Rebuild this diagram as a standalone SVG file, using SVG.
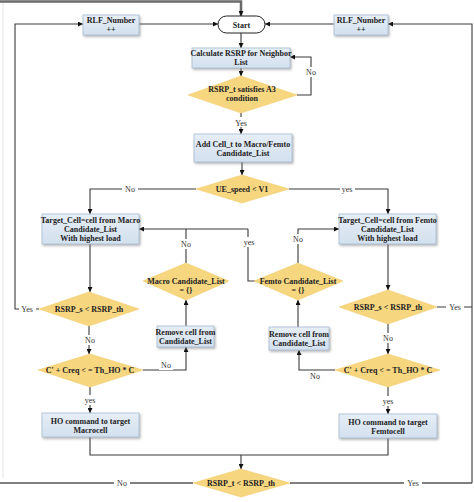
<svg xmlns="http://www.w3.org/2000/svg" width="474" height="502" viewBox="0 0 474 502">
<defs>
<linearGradient id="gb" x1="0" y1="0" x2="0" y2="1">
<stop offset="0" stop-color="#e6eef7"/>
<stop offset="1" stop-color="#d3e0ee"/>
</linearGradient>
<filter id="sh" x="-10%" y="-10%" width="130%" height="140%">
<feDropShadow dx="1.2" dy="1.5" stdDeviation="0.8" flood-color="#777" flood-opacity="0.55"/>
</filter>
<marker id="ar" viewBox="0 0 10 10" refX="10" refY="5" markerWidth="5" markerHeight="5" orient="auto" markerUnits="userSpaceOnUse">
<path d="M0,0 L10,5 L0,10 z" fill="#111"/>
</marker>
<style>
.box{fill:url(#gb);stroke:#a9bccf;stroke-width:0.8;filter:url(#sh)}
.dia{fill:#f7d680;stroke:#f0c860;stroke-width:0.5}
.term{fill:#fff;stroke:#222;stroke-width:1}
.t{font-family:"Liberation Serif","Times New Roman",serif;font-size:8px;font-weight:bold;fill:#222;text-anchor:middle}
.l{font-family:"Liberation Serif","Times New Roman",serif;font-size:8px;fill:#333;text-anchor:middle}
.ln{stroke:#3a3a3a;stroke-width:1.1;fill:none}
.a{marker-end:url(#ar)}
.bg{fill:#fff}
</style>
</defs>
<rect width="474" height="502" fill="#fff"/>

<g id="connectors">
<line x1="3" y1="3" x2="3" y2="478" stroke="#e2e2e2" stroke-width="1"/>
<path class="ln a" d="M0,1.5 H241 V16" stroke="#666" stroke-width="2.5" style="stroke:#6a6a6a;stroke-width:2.5"/>
<path class="ln a" d="M139,24 H218"/>
<path class="ln a" d="M334,24 H265"/>
<path class="ln a" d="M472,483 V24 H388"/>
<path class="ln a" d="M241,33 V48"/>
<path class="ln a" d="M241,68 V76"/>
<path class="ln a" d="M297,95 H311 V57 H290"/>
<path class="ln a" d="M241,113 V134"/>
<path class="ln a" d="M242,162 V175"/>
<path class="ln a" d="M196,189 H90 V214"/>
<path class="ln a" d="M289,189 H388 V214"/>
<path class="ln a" d="M90,244 V292"/>
<path class="ln a" d="M388,244 V290"/>
<path class="ln a" d="M39,309 H15 V24 H83"/>
<path class="ln" d="M437,307 H472"/>
<path class="ln a" d="M89,326 V354"/>
<path class="ln a" d="M388,324 V354"/>
<path class="ln a" d="M143,370 H186 V347"/>
<path class="ln a" d="M335,370 H299 V350"/>
<path class="ln a" d="M186,326 V300"/>
<path class="ln a" d="M298,327 V300"/>
<path class="ln a" d="M186,263 V229 M248,229 H139"/>
<path class="ln" d="M255,281 H248 V229"/>
<path class="ln a" d="M298,263 V229 H339"/>
<path class="ln a" d="M90,387 V413"/>
<path class="ln a" d="M388,387 V414"/>
<path class="ln" d="M90,437 V455 H388 V438"/>
<path class="ln a" d="M241,455 V469"/>
<path class="ln" d="M193,483 H0" style="stroke:#555;stroke-width:1.3"/>
<path class="ln" d="M290,483 H472" style="stroke:#555;stroke-width:1.3"/>

<rect class="bg" x="232" y="117" width="18" height="10"/><text class="l" x="241" y="125.5">Yes</text>
<rect class="bg" x="304" y="67" width="14" height="10"/><text class="l" x="311" y="75">No</text>
<rect class="bg" x="122" y="184" width="16" height="10"/><text class="l" x="130" y="192">No</text>
<rect class="bg" x="340" y="184" width="15" height="10"/><text class="l" x="347" y="192">yes</text>
<rect class="bg" x="179" y="239" width="14" height="10"/><text class="l" x="186" y="247">No</text>
<rect class="bg" x="242" y="237" width="14" height="10"/><text class="l" x="249" y="245">yes</text>
<rect class="bg" x="291" y="234" width="14" height="10"/><text class="l" x="298" y="242">No</text>
<rect class="bg" x="19" y="304" width="17" height="10"/><text class="l" x="27" y="312">Yes</text>
<rect class="bg" x="446" y="302" width="18" height="10"/><text class="l" x="455" y="310">Yes</text>
<rect class="bg" x="83" y="335" width="14" height="10"/><text class="l" x="90" y="343">No</text>
<rect class="bg" x="381" y="333" width="14" height="10"/><text class="l" x="388" y="341">No</text>
<rect class="bg" x="159" y="361" width="14" height="9"/><text class="l" x="166" y="368">No</text>
<rect class="bg" x="308" y="371" width="14" height="10"/><text class="l" x="315" y="379">No</text>
<rect class="bg" x="83" y="395" width="15" height="10"/><text class="l" x="90" y="403">yes</text>
<rect class="bg" x="381" y="396" width="15" height="10"/><text class="l" x="388" y="404">yes</text>
<rect class="bg" x="114" y="478" width="16" height="10"/><text class="l" x="122" y="486">No</text>
<rect class="bg" x="404" y="478" width="18" height="10"/><text class="l" x="413" y="486">Yes</text>
</g>

<g id="start"><rect class="term" x="218" y="16" width="47" height="17" rx="8.5"/><text class="t" x="241.5" y="27.5">Start</text></g>
<g id="rlf-left"><rect class="box" x="83" y="15" width="56" height="20"/><text class="t" x="111" y="23">RLF_Number</text><text class="t" x="111" y="32">++</text></g>
<g id="rlf-right"><rect class="box" x="334" y="15" width="54" height="20"/><text class="t" x="361" y="23">RLF_Number</text><text class="t" x="361" y="32">++</text></g>
<g id="calc"><rect class="box" x="192" y="48" width="98" height="20"/><text class="t" x="241" y="56">Calculate RSRP for Neighbor</text><text class="t" x="241" y="65">List</text></g>
<g id="a3"><polygon class="dia" points="241,76 297,95 241,113 188,95"/><text class="t" x="242" y="92">RSRP_t satisfies A3</text><text class="t" x="242" y="101">condition</text></g>
<g id="add"><rect class="box" x="194" y="134" width="98" height="28"/><text class="t" x="243" y="147">Add Cell_t to Macro/Femto</text><text class="t" x="243" y="156">Candidate_List</text></g>
<g id="speed"><polygon class="dia" points="242,175 289,189 242,203 196,189"/><text class="t" x="242" y="192">UE_speed &lt; V1</text></g>
<g id="target-macro"><rect class="box" x="42" y="214" width="97" height="30"/><text class="t" x="90.5" y="222.5">Target_Cell=cell from Macro</text><text class="t" x="90.5" y="231.5">Candidate_List</text><text class="t" x="90.5" y="240.5">With highest load</text></g>
<g id="target-femto"><rect class="box" x="339" y="214" width="97" height="30"/><text class="t" x="387.5" y="222.5">Target_Cell=cell from Femto</text><text class="t" x="387.5" y="231.5">Candidate_List</text><text class="t" x="387.5" y="240.5">With highest load</text></g>
<g id="macro-empty"><polygon class="dia" points="186,263 229,281 186,300 143,281"/><text class="t" x="186" y="284">Macro Candidate_List</text><text class="t" x="186" y="293">= {}</text></g>
<g id="femto-empty"><polygon class="dia" points="298,263 343,281 298,300 254,281"/><text class="t" x="298" y="284">Femto Candidate_List</text><text class="t" x="298" y="293">= {}</text></g>
<g id="rsrps-left"><polygon class="dia" points="89,292 139,309 89,326 39,309"/><text class="t" x="89" y="312">RSRP_s &lt;  RSRP_th</text></g>
<g id="rsrps-right"><polygon class="dia" points="388,290 437,307 388,324 339,307"/><text class="t" x="388" y="310">RSRP_s &lt;  RSRP_th</text></g>
<g id="remove-left"><rect class="box" x="157" y="326" width="57" height="21"/><text class="t" x="185.5" y="335">Remove cell from</text><text class="t" x="185.5" y="344">Candidate_List</text></g>
<g id="remove-right"><rect class="box" x="269" y="327" width="60" height="23"/><text class="t" x="299" y="337">Remove cell from</text><text class="t" x="299" y="346">Candidate_List</text></g>
<g id="cap-left"><polygon class="dia" points="90,354 143,370 90,387 38,370"/><text class="t" x="90" y="373">C' + Creq &lt; = Th_HO * C</text></g>
<g id="cap-right"><polygon class="dia" points="388,354 440,370 388,387 335,370"/><text class="t" x="388" y="373">C' + Creq &lt; = Th_HO * C</text></g>
<g id="ho-macro"><rect class="box" x="42" y="413" width="97" height="24"/><text class="t" x="90.5" y="424">HO command to target</text><text class="t" x="90.5" y="433">Macrocell</text></g>
<g id="ho-femto"><rect class="box" x="339" y="414" width="98" height="24"/><text class="t" x="388" y="425">HO command to target</text><text class="t" x="388" y="434">Femtocell</text></g>
<g id="rsrpt"><polygon class="dia" points="241,469 290,483 241,497 193,483"/><text class="t" x="241" y="486">RSRP_t &lt;  RSRP_th</text></g>
</svg>
